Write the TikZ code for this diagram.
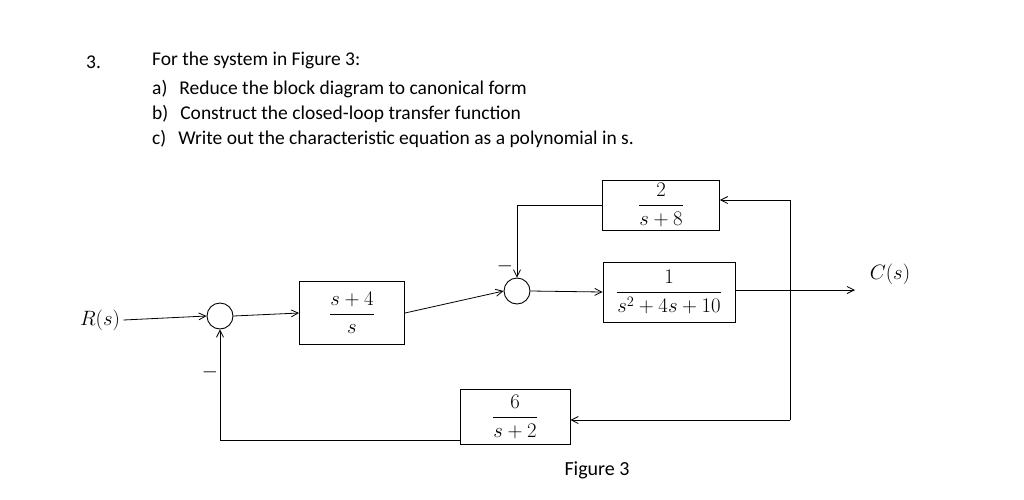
\documentclass[tikz,border=0pt]{standalone}
\usepackage{amsmath}
\usepackage{fontspec}
\setmainfont{Carlito}
\usetikzlibrary{arrows.meta}
\begin{document}
\begin{tikzpicture}[x=1pt,y=-1pt,
  blk/.style={draw,line width=0.9pt,minimum width=#1,inner sep=2pt},
  sumj/.style={draw,circle,line width=0.9pt,minimum size=26pt,inner sep=0pt},
  sig/.style={line width=0.8pt,-{Straight Barb[length=7pt,width=7pt]}},
  ln/.style={line width=0.8pt},
  txt/.style={anchor=west,font=\fontsize{19.5}{22}\selectfont,inner sep=0pt},
  hw/.style={font=\fontsize{20}{22}\selectfont}]
\useasboundingbox (0,0) rectangle (1024,499);
\node[txt] (n3) at (86,62) {3.};
\node[txt] (l0) at (152,60) {For the system in Figure 3:};
\node[txt] (la) at (152,89) {a)\hspace{12pt}Reduce the block diagram to canonical form};
\node[txt] (lb) at (152,114) {b)\hspace{12pt}Construct the closed-loop transfer function};
\node[txt] (lc) at (152,139) {c)\hspace{12pt}Write out the characteristic equation as a polynomial in s.};

\node[hw] (R) at (100,320) {$R(s)$};
\node[sumj] (s1) at (220,316) {};
\node[blk=105pt,minimum height=63pt,hw] (g1) at (352,313) {$\dfrac{s+4}{s}$};
\node[sumj] (s2) at (517,291) {};
\node[blk=132pt,minimum height=60pt,hw] (g2) at (669,292) {$\dfrac{1}{s^2+4s+10}$};
\node[blk=117pt,minimum height=50pt,hw] (h1) at (661,205) {$\dfrac{2}{s+8}$};
\node[blk=110pt,minimum height=55pt,hw] (h2) at (515,417) {$\dfrac{6}{s+2}$};
\node[hw] (C) at (890,274) {$C(s)$};
\coordinate (out) at (855,290);
\coordinate (tap) at (790,290);
\coordinate (tt) at (790,200);
\coordinate (tb) at (790,420);
\node[hw] (m1) at (210,372) {$-$};
\node[hw] (m2) at (505,266) {$-$};
\node[font=\fontsize{20}{22}\selectfont] (fig) at (597,470) {Figure 3};

\draw[sig] (R.east) -- (s1.west);
\draw[sig] (s1.east) -- (g1.west);
\draw[sig] (g1.east) -- (s2.west);
\draw[sig] (s2.east) -- (g2.west);
\draw[sig] (g2.east |- tap) -- (out);
\draw[ln] (tap) -- (tt);
\draw[sig] (tt) -- (h1.east |- tt);
\draw[sig] (h1.west) -| (s2.north);
\draw[ln] (tap) -- (tb);
\draw[sig] (tb) -- (h2.east |- tb);
\draw[sig] (h2.west |- 0,440) -| (s1.south);
\end{tikzpicture}
\end{document}
